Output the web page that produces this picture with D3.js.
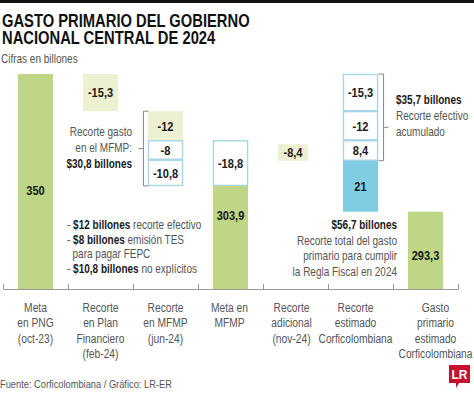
<!DOCTYPE html>
<html>
<head>
<meta charset="utf-8">
<script src="https://cdn.jsdelivr.net/npm/d3@7"></script>
<style>
  body { margin: 0; background: #fff; }
  svg { display: block; }
  text { font-family: "Liberation Sans", Arial, sans-serif; }
</style>
</head>
<body>
<script>
// data (billones de pesos)
const categories = ["pngMeta", "planRecorte", "mfmpRecorte", "mfmpMeta", "adicional", "corfiRecorte", "corfiGasto"];
const axisLabels = [
  ["Meta", "en PNG", "(oct-23)"],
  ["Recorte", "en Plan", "Financiero", "(feb-24)"],
  ["Recorte", "en MFMP", "(jun-24)"],
  ["Meta en", "MFMP"],
  ["Recorte", "adicional", "(nov-24)"],
  ["Recorte", "estimado", "Corficolombiana"],
  ["Gasto", "primario", "estimado", "Corficolombiana"]
];
const metaPNG = 350;
const recortePlan = [-15.3];
const recorteMFMP = [-12, -8, -10.8];
const pendienteMFMP = -18.8;
const metaMFMP = 303.9;
const recorteAdicional = [-8.4];
const recorteCorfi = [-15.3, -12, 8.4, 21];
const gastoCorfi = 293.3;

const W = 474, H = 395;
const SX = 0.82; // narrow face: squeeze Liberation Sans horizontally
const green = "#bed685", pale = "#eef0d2", blue = "#80cde3", edge = "#a9d6e6";
const grey = "#555", dark = "#1a1a1a";

const loc = d3.formatLocale({decimal: ",", thousands: ".", grouping: [3], currency: ["$", ""], minus: "-"});
const fmt = loc.format("");

const svg = d3.select("body").append("svg").attr("width", W).attr("height", H);

// text helper: squeezed text placed at (x,y)
function put(parent, xp, yp, size, sx) {
  return parent.append("g").attr("transform", `translate(${xp},${yp}) scale(${sx || SX},1)`)
    .append("text").attr("font-size", size);
}

// top rule + titles
svg.append("rect").attr("x", 0).attr("y", 0).attr("width", W).attr("height", 3).attr("fill", "#111");
put(svg, 2, 27, 18).attr("font-weight", "bold").attr("fill", "#111").text("GASTO PRIMARIO DEL GOBIERNO");
put(svg, 2, 43.5, 18).attr("font-weight", "bold").attr("fill", "#111").text("NACIONAL CENTRAL DE 2024");
put(svg, 1, 63, 12.2).attr("fill", grey).text("Cifras en billones");

// scales: axis is broken, low part compressed
const x = d3.scaleBand().domain(categories).range([3, 458]).paddingInner(0.46).paddingOuter(0.23);
const y = d3.scaleLinear().domain([0, 280, 350]).range([289, 244, 74]);

// build the waterfall pieces
const segs = [];
segs.push({cat: "pngMeta", lo: 0, hi: metaPNG, kind: "total", label: metaPNG, dy: 116});
let level = metaPNG;
recortePlan.forEach(v => { segs.push({cat: "planRecorte", lo: level + v, hi: level, kind: "cut", label: v}); level += v; });
recorteMFMP.forEach((v, i) => {
  segs.push({cat: "mfmpRecorte", lo: level + v, hi: level, kind: i === 0 ? "cut" : "open", label: v});
  level += v;
});
segs.push({cat: "mfmpMeta", lo: metaMFMP, hi: metaMFMP - pendienteMFMP, kind: "open", label: pendienteMFMP});
segs.push({cat: "mfmpMeta", lo: 0, hi: metaMFMP, kind: "total", label: metaMFMP, dy: 29});
let adTop = metaPNG + recortePlan[0] + recorteMFMP[0];
recorteAdicional.forEach(v => {
  segs.push({cat: "adicional", lo: adTop + v, hi: adTop, kind: "cut", label: v, inset: 4, narrow: 5});
  adTop += v;
});
level = metaPNG;
recorteCorfi.forEach((v, i) => {
  const a = Math.abs(v);
  segs.push({cat: "corfiRecorte", lo: level - a, hi: level, kind: i === recorteCorfi.length - 1 ? "blue" : "open", label: v});
  level -= a;
});
segs.push({cat: "corfiGasto", lo: 0, hi: gastoCorfi, kind: "total", label: gastoCorfi, dy: 43});

const fills = {total: green, cut: pale, open: "#fff", blue: blue};

const g = svg.append("g");
g.selectAll("rect.seg").data(segs).join("rect")
  .attr("class", "seg")
  .attr("x", d => x(d.cat) + (d.kind === "open" ? 0.5 : 0))
  .attr("y", d => y(d.hi) + (d.inset || 0) + (d.kind === "open" ? 0.5 : 0))
  .attr("width", d => x.bandwidth() - (d.narrow || 0) - (d.kind === "open" ? 1 : 0))
  .attr("height", d => y(d.lo) - y(d.hi) - (d.inset || 0) - (d.kind === "open" ? 1 : 0))
  .attr("fill", d => fills[d.kind])
  .attr("stroke", d => d.kind === "open" ? edge : "none")
  .attr("stroke-width", 1.4);

g.selectAll("g.val").data(segs).join("g")
  .attr("class", "val")
  .attr("transform", d => {
    const cx = x(d.cat) + (x.bandwidth() - (d.narrow || 0)) / 2;
    const cy = d.dy ? y(d.hi) + d.dy : (y(d.hi) + (d.inset || 0) + y(d.lo)) / 2;
    return `translate(${cx},${cy}) scale(${SX},1)`;
  })
  .append("text")
  .attr("dy", "0.36em")
  .attr("text-anchor", "middle")
  .attr("font-size", 13.5).attr("font-weight", "bold").attr("fill", dark)
  .text(d => fmt(d.label));

// axis with ticks on band edges
const edgeScale = d3.scaleLinear().domain([0, categories.length]).range([3, 458]);
const axis = svg.append("g").attr("transform", "translate(0,289)")
  .call(d3.axisBottom(edgeScale).tickValues(d3.range(categories.length + 1)).tickSizeInner(-5).tickSizeOuter(0).tickFormat(""));
axis.selectAll("path, line").attr("stroke", "#999");

// labels are not all centred on their bars in the original
const labelShift = [0, 0, 0, -1, -4, -5, 10];
categories.forEach((c, i) => {
  const t = put(svg, x(c) + x.bandwidth() / 2 + labelShift[i], 312, 12.5).attr("text-anchor", "middle").attr("fill", grey);
  t.selectAll("tspan").data(axisLabels[i]).join("tspan")
    .attr("x", 0).attr("y", (d, j) => j * 15.5).text(d => d);
});

// brackets
const br = svg.append("g").attr("fill", "none").attr("stroke", "#888").attr("stroke-width", 1);
const lx = x("mfmpRecorte") - 4.5;
const mTop = y(metaPNG + recortePlan[0]), mBot = y(metaMFMP);
br.append("path").attr("d", `M${lx + 5},${mTop}H${lx}V${mBot}H${lx + 5}M${lx},${(mTop + mBot) / 2}H${lx - 5}`);
const rx = x("corfiRecorte") + x.bandwidth() + 5.5;
const cTop = y(metaPNG), cBot = y(metaPNG - 15.3 - 12 - 8.4);
br.append("path").attr("d", `M${rx - 5},${cTop}H${rx}V${cBot}H${rx - 5}M${rx},${(cTop + cBot) / 2 + 10}H${rx + 5}`);

// annotations
function block(xp, y0, anchor, lines, step) {
  const t = put(svg, xp, y0, 12.2).attr("text-anchor", anchor).attr("fill", grey);
  lines.forEach((ln, i) => {
    const row = t.append("tspan").attr("x", 0).attr("y", i * step);
    ln.forEach(p => row.append("tspan").attr("font-weight", p.b ? "bold" : null).attr("fill", p.b ? dark : null).text(p.t));
  });
}
block(132, 136, "end", [[{t: "Recorte gasto"}], [{t: "en el MFMP:"}], [{t: "$30,8 billones", b: 1}]], 16);
block(396, 104, "start", [[{t: "$35,7 billones", b: 1}], [{t: "Recorte efectivo"}], [{t: "acumulado"}]], 16);
block(397, 229, "end", [[{t: "$56,7 billones", b: 1}], [{t: "Recorte total del gasto"}], [{t: "primario para cumplir"}], [{t: "la Regla Fiscal en 2024"}]], 15.6);
block(67, 229, "start", [
  [{t: "- "}, {t: "$12 billones", b: 1}, {t: " recorte efectivo"}],
  [{t: "- "}, {t: "$8 billones", b: 1}, {t: " emisión TES"}],
  [{t: "  para pagar FEPC"}],
  [{t: "- "}, {t: "$10,8 billones", b: 1}, {t: " no explícitos"}]
], 14.6);
svg.selectAll("tspan").attr("xml:space", "preserve");

// footer
put(svg, 0, 388, 10, 0.93).attr("fill", grey).text("Fuente: Corficolombiana / Gráfico: LR-ER");
const logo = svg.append("g").attr("transform", "translate(449,365)");
logo.append("path").attr("d", "M0,0H21V18H10L7,23V18H0Z").attr("fill", "#c8102e");
logo.append("text").attr("x", 10.5).attr("y", 14).attr("text-anchor", "middle")
  .attr("font-family", "'Liberation Serif', 'DejaVu Serif', serif").attr("font-weight", "bold")
  .attr("font-size", 12).attr("fill", "#fff").text("LR");
</script>
</body>
</html>
